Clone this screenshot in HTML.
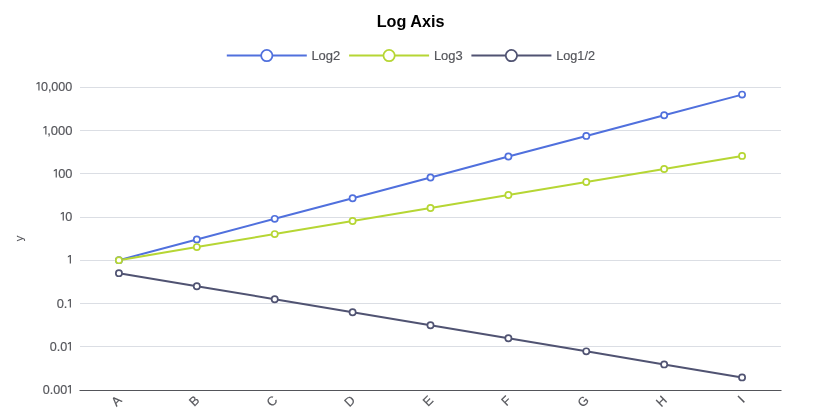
<!DOCTYPE html><html><head><meta charset="utf-8"><style>html,body{margin:0;padding:0;background:#fff}body{width:821px;height:420px;position:relative;overflow:hidden}</style></head><body><svg width="821" height="420" viewBox="0 0 821 420" style="position:absolute;left:0;top:0;will-change:transform;font-family:'Liberation Sans',sans-serif">
<line x1="80" y1="346.5" x2="781" y2="346.5" stroke="#dbdee4" stroke-width="1"/>
<line x1="80" y1="303.5" x2="781" y2="303.5" stroke="#dbdee4" stroke-width="1"/>
<line x1="80" y1="260.5" x2="781" y2="260.5" stroke="#dbdee4" stroke-width="1"/>
<line x1="80" y1="217.5" x2="781" y2="217.5" stroke="#dbdee4" stroke-width="1"/>
<line x1="80" y1="173.5" x2="781" y2="173.5" stroke="#dbdee4" stroke-width="1"/>
<line x1="80" y1="130.5" x2="781" y2="130.5" stroke="#dbdee4" stroke-width="1"/>
<line x1="80" y1="87.5" x2="781" y2="87.5" stroke="#dbdee4" stroke-width="1"/>
<line x1="79.5" y1="390.5" x2="781.5" y2="390.5" stroke="#54555a" stroke-width="1"/>
<text transform="translate(42.859,393.773) scale(1.0484,1.0593)" font-size="12" fill="#54555a" stroke="#54555a" stroke-width="0.16">0.00</text>
<path d="M70.95,385.10 L70.95,393.60 L69.75,393.60 L69.75,386.40 L67.85,387.45 L67.85,386.30 L69.85,385.10 Z" fill="#54555a"/>
<text transform="translate(49.808,350.773) scale(1.0512,1.0593)" font-size="12" fill="#54555a" stroke="#54555a" stroke-width="0.16">0.0</text>
<path d="M70.95,342.10 L70.95,350.60 L69.75,350.60 L69.75,343.40 L67.85,344.45 L67.85,343.30 L69.85,342.10 Z" fill="#54555a"/>
<text transform="translate(56.699,307.773) scale(1.0713,1.0593)" font-size="12" fill="#54555a" stroke="#54555a" stroke-width="0.16">0.</text>
<path d="M70.95,299.10 L70.95,307.60 L69.75,307.60 L69.75,300.40 L67.85,301.45 L67.85,300.30 L69.85,299.10 Z" fill="#54555a"/>
<path d="M70.95,255.10 L70.95,263.60 L69.75,263.60 L69.75,256.40 L67.85,257.45 L67.85,256.30 L69.85,255.10 Z" fill="#54555a"/>
<text transform="translate(65.356,220.773) scale(1.0547,1.0593)" font-size="12" fill="#54555a" stroke="#54555a" stroke-width="0.16">0</text>
<path d="M63.86,212.10 L63.86,220.60 L62.66,220.60 L62.66,213.40 L60.76,214.45 L60.76,213.30 L62.76,212.10 Z" fill="#54555a"/>
<text transform="translate(58.150,177.773) scale(1.0679,1.0593)" font-size="12" fill="#54555a" stroke="#54555a" stroke-width="0.16">00</text>
<path d="M56.85,169.10 L56.85,177.60 L55.65,177.60 L55.65,170.40 L53.75,171.45 L53.75,170.30 L55.75,169.10 Z" fill="#54555a"/>
<text transform="translate(47.131,134.773) scale(1.0824,1.0593)" font-size="12" fill="#54555a" stroke="#54555a" stroke-width="0.16">,000</text>
<path d="M46.47,126.10 L46.47,134.60 L45.27,134.60 L45.27,127.40 L43.37,128.45 L43.37,127.30 L45.37,126.10 Z" fill="#54555a"/>
<text transform="translate(40.879,90.773) scale(1.0496,1.0593)" font-size="12" fill="#54555a" stroke="#54555a" stroke-width="0.16">0,000</text>
<path d="M39.54,82.10 L39.54,90.60 L38.34,90.60 L38.34,83.40 L36.44,84.45 L36.44,83.30 L38.44,82.10 Z" fill="#54555a"/>
<text transform="translate(21.15,238.35) rotate(-90) scale(0.9259,0.9681)" x="-3.006" y="1.920" font-size="12" fill="#54555a" stroke="#54555a" stroke-width="0.16">y</text>
<text transform="translate(119.24,397.85) rotate(-45) scale(1.06)" text-anchor="end" dominant-baseline="central" font-size="12" fill="#54555a" stroke="#54555a" stroke-width="0.16">A</text>
<text transform="translate(197.13,397.85) rotate(-45) scale(1.06)" text-anchor="end" dominant-baseline="central" font-size="12" fill="#54555a" stroke="#54555a" stroke-width="0.16">B</text>
<text transform="translate(275.02,397.85) rotate(-45) scale(1.06)" text-anchor="end" dominant-baseline="central" font-size="12" fill="#54555a" stroke="#54555a" stroke-width="0.16">C</text>
<text transform="translate(352.91,397.85) rotate(-45) scale(1.06)" text-anchor="end" dominant-baseline="central" font-size="12" fill="#54555a" stroke="#54555a" stroke-width="0.16">D</text>
<text transform="translate(430.80,397.85) rotate(-45) scale(1.06)" text-anchor="end" dominant-baseline="central" font-size="12" fill="#54555a" stroke="#54555a" stroke-width="0.16">E</text>
<text transform="translate(508.69,397.85) rotate(-45) scale(1.06)" text-anchor="end" dominant-baseline="central" font-size="12" fill="#54555a" stroke="#54555a" stroke-width="0.16">F</text>
<text transform="translate(586.58,397.85) rotate(-45) scale(1.06)" text-anchor="end" dominant-baseline="central" font-size="12" fill="#54555a" stroke="#54555a" stroke-width="0.16">G</text>
<text transform="translate(664.47,397.85) rotate(-45) scale(1.06)" text-anchor="end" dominant-baseline="central" font-size="12" fill="#54555a" stroke="#54555a" stroke-width="0.16">H</text>
<text transform="translate(742.36,397.85) rotate(-45) scale(1.06)" text-anchor="end" dominant-baseline="central" font-size="12" fill="#54555a" stroke="#54555a" stroke-width="0.16">I</text>
<polyline points="118.94,260.14 196.83,239.49 274.72,218.84 352.61,198.19 430.50,177.53 508.39,156.57 586.28,135.92 664.17,115.27 742.06,94.62" fill="none" stroke="#5070dd" stroke-width="2" stroke-linejoin="bevel"/>
<polyline points="118.94,260.14 196.83,247.11 274.72,234.08 352.61,221.05 430.50,208.02 508.39,194.99 586.28,181.96 664.17,168.93 742.06,155.90" fill="none" stroke="#b6d634" stroke-width="2" stroke-linejoin="bevel"/>
<polyline points="118.94,273.17 196.83,286.20 274.72,299.23 352.61,312.26 430.50,325.29 508.39,338.32 586.28,351.35 664.17,364.39 742.06,377.42" fill="none" stroke="#505372" stroke-width="2" stroke-linejoin="bevel"/>
<circle cx="118.94" cy="260.14" r="3.1" fill="#fff" stroke="#5070dd" stroke-width="1.7"/>
<circle cx="196.83" cy="239.49" r="3.1" fill="#fff" stroke="#5070dd" stroke-width="1.7"/>
<circle cx="274.72" cy="218.84" r="3.1" fill="#fff" stroke="#5070dd" stroke-width="1.7"/>
<circle cx="352.61" cy="198.19" r="3.1" fill="#fff" stroke="#5070dd" stroke-width="1.7"/>
<circle cx="430.50" cy="177.53" r="3.1" fill="#fff" stroke="#5070dd" stroke-width="1.7"/>
<circle cx="508.39" cy="156.57" r="3.1" fill="#fff" stroke="#5070dd" stroke-width="1.7"/>
<circle cx="586.28" cy="135.92" r="3.1" fill="#fff" stroke="#5070dd" stroke-width="1.7"/>
<circle cx="664.17" cy="115.27" r="3.1" fill="#fff" stroke="#5070dd" stroke-width="1.7"/>
<circle cx="742.06" cy="94.62" r="3.1" fill="#fff" stroke="#5070dd" stroke-width="1.7"/>
<circle cx="118.94" cy="260.14" r="3.1" fill="#fff" stroke="#b6d634" stroke-width="1.7"/>
<circle cx="196.83" cy="247.11" r="3.1" fill="#fff" stroke="#b6d634" stroke-width="1.7"/>
<circle cx="274.72" cy="234.08" r="3.1" fill="#fff" stroke="#b6d634" stroke-width="1.7"/>
<circle cx="352.61" cy="221.05" r="3.1" fill="#fff" stroke="#b6d634" stroke-width="1.7"/>
<circle cx="430.50" cy="208.02" r="3.1" fill="#fff" stroke="#b6d634" stroke-width="1.7"/>
<circle cx="508.39" cy="194.99" r="3.1" fill="#fff" stroke="#b6d634" stroke-width="1.7"/>
<circle cx="586.28" cy="181.96" r="3.1" fill="#fff" stroke="#b6d634" stroke-width="1.7"/>
<circle cx="664.17" cy="168.93" r="3.1" fill="#fff" stroke="#b6d634" stroke-width="1.7"/>
<circle cx="742.06" cy="155.90" r="3.1" fill="#fff" stroke="#b6d634" stroke-width="1.7"/>
<circle cx="118.94" cy="273.17" r="3.1" fill="#fff" stroke="#505372" stroke-width="1.7"/>
<circle cx="196.83" cy="286.20" r="3.1" fill="#fff" stroke="#505372" stroke-width="1.7"/>
<circle cx="274.72" cy="299.23" r="3.1" fill="#fff" stroke="#505372" stroke-width="1.7"/>
<circle cx="352.61" cy="312.26" r="3.1" fill="#fff" stroke="#505372" stroke-width="1.7"/>
<circle cx="430.50" cy="325.29" r="3.1" fill="#fff" stroke="#505372" stroke-width="1.7"/>
<circle cx="508.39" cy="338.32" r="3.1" fill="#fff" stroke="#505372" stroke-width="1.7"/>
<circle cx="586.28" cy="351.35" r="3.1" fill="#fff" stroke="#505372" stroke-width="1.7"/>
<circle cx="664.17" cy="364.39" r="3.1" fill="#fff" stroke="#505372" stroke-width="1.7"/>
<circle cx="742.06" cy="377.42" r="3.1" fill="#fff" stroke="#505372" stroke-width="1.7"/>
<text transform="translate(376.661,26.800) scale(1.0156,1.0538)" font-weight="bold" font-size="16" fill="#000">Log Axis</text>
<line x1="226.8" y1="55.5" x2="306.8" y2="55.5" stroke="#5070dd" stroke-width="2"/>
<circle cx="266.8" cy="55.6" r="5.65" fill="#fff" stroke="#5070dd" stroke-width="1.75"/>
<text transform="translate(311.382,60.000) scale(1.0855,1.0598)" font-size="12" fill="#54555a" stroke="#54555a" stroke-width="0.16">Log2</text>
<line x1="349.1" y1="55.5" x2="429.1" y2="55.5" stroke="#b6d634" stroke-width="2"/>
<circle cx="389.1" cy="55.6" r="5.65" fill="#fff" stroke="#b6d634" stroke-width="1.75"/>
<text transform="translate(433.889,60.000) scale(1.0784,1.0598)" font-size="12" fill="#54555a" stroke="#54555a" stroke-width="0.16">Log3</text>
<line x1="471.4" y1="55.5" x2="551.4" y2="55.5" stroke="#505372" stroke-width="2"/>
<circle cx="511.4" cy="55.6" r="5.65" fill="#fff" stroke="#505372" stroke-width="1.75"/>
<text transform="translate(556.209,60.000) scale(1.0580,1.0598)" font-size="12" fill="#54555a" stroke="#54555a" stroke-width="0.16">Log1/2</text>
</svg></body></html>
